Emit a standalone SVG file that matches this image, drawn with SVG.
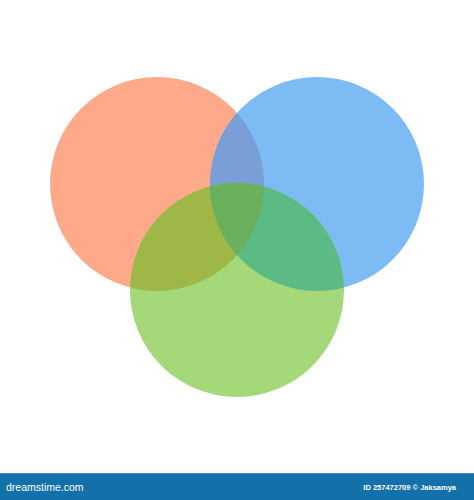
<svg xmlns="http://www.w3.org/2000/svg" width="474" height="500" viewBox="0 0 474 500">
  <style>
    .brand { font-family: "Liberation Sans", Arial, sans-serif; fill: #ffffff; }
  </style>
  <defs>
    <clipPath id="clipO"><circle cx="157" cy="184" r="107"/></clipPath>
    <clipPath id="clipB"><circle cx="317" cy="184" r="107"/></clipPath>
    <clipPath id="clipG"><circle cx="237" cy="290" r="107"/></clipPath>
  </defs>
  <rect width="474" height="500" fill="#ffffff"/>
  <g id="circle-orange"><circle cx="157" cy="184" r="107" fill="#FDA98A"/></g>
  <g id="circle-blue"><circle cx="317" cy="184" r="107" fill="#7DBBF4"/></g>
  <g id="circle-green"><circle cx="237" cy="290" r="107" fill="#A5D879"/></g>
  <g id="overlaps">
    <g clip-path="url(#clipO)"><circle cx="317" cy="184" r="107" fill="#7A9FD6"/></g>
    <g clip-path="url(#clipO)"><circle cx="237" cy="290" r="107" fill="#9EB747"/></g>
    <g clip-path="url(#clipB)"><circle cx="237" cy="290" r="107" fill="#5CBA84"/></g>
    <g clip-path="url(#clipO)"><g clip-path="url(#clipB)"><circle cx="237" cy="290" r="107" fill="#6AAF5C"/></g></g>
  </g>
  <g id="footer">
    <rect x="0" y="473" width="474" height="27" fill="#1470A8"/>
    <rect x="0" y="473" width="474" height="1" fill="#3E8CC0"/>
    <text class="brand" x="6" y="491" font-size="10.5">dreamstime.com</text>
    <text class="brand" x="456" y="490" font-size="7.5" font-weight="bold" text-anchor="end">ID 257472709 © Jaksamya</text>
  </g>
</svg>
